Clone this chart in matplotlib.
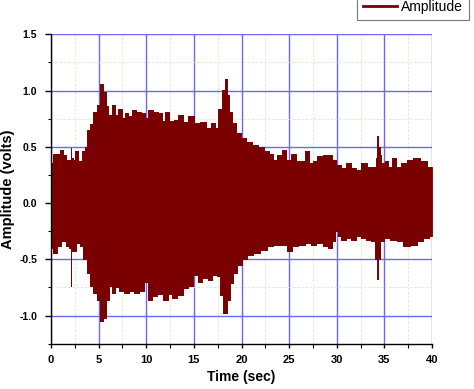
import matplotlib
matplotlib.use("Agg")
import matplotlib.pyplot as plt
from matplotlib.ticker import MultipleLocator, FormatStrFormatter
import numpy as np

plt.rcParams['font.family'] = ['Liberation Sans', 'DejaVu Sans']

# Upper envelope of the signal (time in s, amplitude in V)
t_upper = [0.0, 0.07, 0.42, 0.9, 1.0, 1.47, 1.78, 2.05, 2.1, 2.2, 2.34, 2.7, 3.05, 3.4, 3.64,
           3.99, 4.27, 4.62, 4.97, 5.32, 5.6, 5.85, 6.2, 6.55, 6.9, 7.24, 7.6, 7.94, 8.3,
           8.64, 9.17, 9.7, 10.05, 10.4, 10.92, 11.45, 11.8, 12.15, 12.67, 13.2, 13.55,
           14.07, 14.77, 15.3, 16.0, 16.5, 17.04, 17.4, 17.74, 18.1, 18.37, 18.6, 18.86,
           19.14, 19.67, 20.2, 20.7, 21.4, 22.1, 22.65, 23.17, 23.5, 24.04, 24.46, 24.9,
           25.44, 25.97, 26.5, 26.9, 27.37, 27.7, 28.24, 28.8, 29.3, 29.64, 30.17, 30.7,
           31.2, 31.74, 32.27, 32.86, 33.5, 34.0, 34.15, 34.3, 34.45, 34.54, 34.8, 35.24,
           35.6, 36.0, 36.46, 36.99, 37.7, 38.4, 39.1, 39.8, 40.0]
v_upper = [0.33, 0.355, 0.44, 0.44, 0.47, 0.43, 0.385, 0.38, 0.49, 0.40, 0.385, 0.46, 0.37, 0.46, 0.50,
           0.65, 0.70, 0.81, 0.87, 1.06, 0.99, 0.86, 0.78, 0.87, 0.78, 0.84, 0.755, 0.80, 0.77,
           0.83, 0.81, 0.80, 0.755, 0.83, 0.81, 0.80, 0.73, 0.81, 0.73, 0.74, 0.78,
           0.725, 0.77, 0.71, 0.725, 0.665, 0.71, 0.665, 0.84, 1.006, 1.10, 0.96, 0.81,
           0.71, 0.62, 0.577, 0.547, 0.52, 0.50, 0.46, 0.44, 0.385, 0.43, 0.47, 0.385,
           0.44, 0.37, 0.37, 0.465, 0.355, 0.37, 0.415, 0.43, 0.43, 0.385, 0.34, 0.31,
           0.355, 0.31, 0.296, 0.355, 0.325, 0.325, 0.40, 0.60, 0.50, 0.43, 0.355, 0.37,
           0.325, 0.405, 0.325, 0.355, 0.385, 0.40, 0.37, 0.325, 0.32]

# Lower envelope of the signal
t_lower = [0.0, 0.07, 0.42, 0.8, 1.3, 1.82, 2.05, 2.1, 2.15, 2.34, 2.87, 3.22, 3.57, 3.92,
           4.27, 4.62, 4.97, 5.32, 5.67, 5.95, 6.2, 6.55, 6.9, 7.42, 7.94, 8.47, 9.0, 9.5,
           10.05, 10.4, 10.9, 11.45, 11.97, 12.5, 13.0, 13.55, 14.07, 14.6, 15.2, 15.64,
           16.17, 16.7, 17.2, 17.57, 17.9, 18.27, 18.6, 18.95, 19.3, 19.84, 20.2, 20.9,
           21.6, 22.3, 23.0, 23.7, 24.4, 25.1, 25.6, 26.3, 27.0, 27.5, 28.24, 28.77,
           29.3, 29.64, 30.0, 30.27, 30.7, 31.2, 31.74, 32.27, 32.8, 33.3, 33.85, 34.1,
           34.27, 34.48, 34.7, 35.24, 35.95, 36.65, 37.35, 38.05, 38.75, 39.45, 39.95, 40.0]
v_lower = [-0.38, -0.40, -0.444, -0.385, -0.34, -0.385, -0.40, -0.735, -0.43, -0.43, -0.355, -0.385, -0.50, -0.62,
           -0.74, -0.80, -0.86, -1.05, -1.02, -0.86, -0.74, -0.80, -0.75, -0.785, -0.80, -0.785, -0.80, -0.785,
           -0.705, -0.86, -0.83, -0.81, -0.86, -0.81, -0.845, -0.815, -0.755, -0.74, -0.64, -0.70,
           -0.67, -0.68, -0.64, -0.65, -0.815, -0.977, -0.86, -0.71, -0.62, -0.55, -0.50, -0.46,
           -0.444, -0.415, -0.385, -0.37, -0.37, -0.43, -0.385, -0.37, -0.355, -0.37, -0.355, -0.378,
           -0.40, -0.34, -0.25, -0.295, -0.325, -0.31, -0.325, -0.295, -0.31, -0.325, -0.34, -0.50,
           -0.675, -0.50, -0.34, -0.31, -0.325, -0.34, -0.385, -0.37, -0.34, -0.31, -0.295, -0.29]

series_label = "Amplitude"
x_ticks = [0, 5, 10, 15, 20, 25, 30, 35, 40]
y_ticks = [-1.0, -0.5, 0.0, 0.5, 1.0, 1.5]

color = '#7a0000'

fig = plt.figure(figsize=(4.74, 3.89), dpi=100)
ax = fig.add_axes([0.1076, 0.1164, 0.8038, 0.7954])

ax.fill_between(t_upper, 0, v_upper, step='mid', color=color, lw=0.6, zorder=3)
ax.fill_between(t_lower, v_lower, 0, step='mid', color=color, lw=0.6, zorder=3)
ax.plot(t_upper, v_upper, color=color, lw=0.6, drawstyle='steps-mid', zorder=3,
        label=series_label)
ax.plot(t_lower, v_lower, color=color, lw=0.6, drawstyle='steps-mid', zorder=3)

ax.set_xlim(0, 40)
ax.set_ylim(-1.25, 1.5)
ax.set_xticks(x_ticks)
ax.set_yticks(y_ticks)
ax.xaxis.set_minor_locator(MultipleLocator(2.5))
ax.yaxis.set_minor_locator(MultipleLocator(0.25))
ax.yaxis.set_major_formatter(FormatStrFormatter('%.1f'))

ax.grid(which='major', color='#6a6af0', lw=1.0, zorder=1)
ax.grid(which='minor', color='#d6ebc6', lw=0.6, ls=(0, (3, 2)), zorder=1)
ax.set_axisbelow(True)

for s in ['top', 'right']:
    ax.spines[s].set_visible(False)
for s in ['left', 'bottom']:
    ax.spines[s].set_linewidth(1.0)
    ax.spines[s].set_zorder(5)

ax.tick_params(axis='both', which='major', direction='out', length=4, width=1, colors='black')
ax.tick_params(axis='both', which='minor', direction='out', length=2.5, width=0.8)
ax.tick_params(axis='y', which='major', labelsize=7.5, pad=6)
ax.tick_params(axis='x', which='major', labelsize=8, pad=5, length=3)
ax.tick_params(axis='x', which='minor', length=3)
for lab in ax.get_xticklabels() + ax.get_yticklabels():
    lab.set_fontweight('bold')

ax.set_xlabel('Time (sec)', fontsize=10, fontweight='bold', labelpad=4)
ax.set_ylabel('Amplitude (volts)', fontsize=10.5, fontweight='bold', labelpad=3)

leg = fig.legend(loc='lower left', bbox_to_anchor=(357 / 474, 1 - 20 / 389),
                 bbox_transform=fig.transFigure, borderaxespad=0,
                 fontsize=10, frameon=True, fancybox=False, handlelength=2.4,
                 handletextpad=0.3, borderpad=0.45)
leg.get_frame().set_edgecolor('#555555')
leg.get_frame().set_linewidth(0.8)
for h in leg.get_lines():
    h.set_linewidth(2)
    h.set_drawstyle('default')

fig.savefig('out.png', dpi=100)
